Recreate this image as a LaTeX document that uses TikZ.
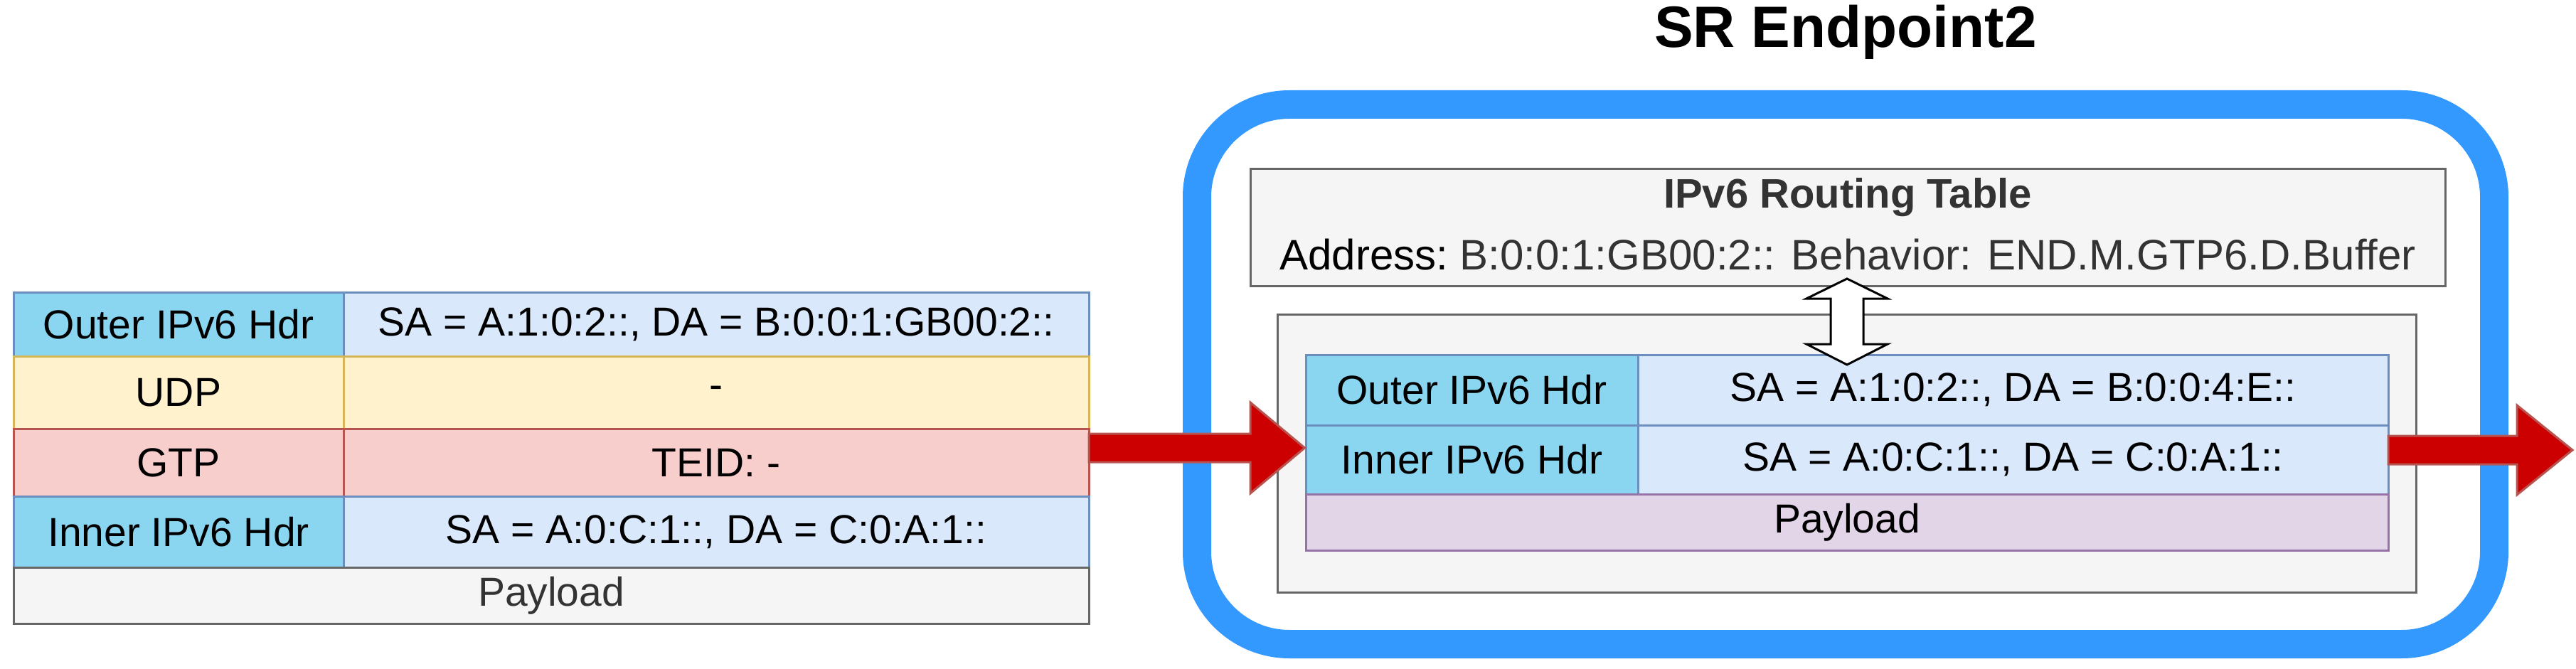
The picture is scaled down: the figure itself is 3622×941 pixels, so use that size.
\documentclass[tikz,border=0pt]{standalone}
\usepackage{fontspec}
\setmainfont{Liberation Sans}
\begin{document}
\begin{tikzpicture}[x=1pt,y=-1pt,
  cell/.style={draw, line width=3pt, inner sep=0pt, font=\fontsize{57}{62}\selectfont},
  hdr/.style={cell, fill=hb, draw=bs},
  val/.style={cell, fill=vb, draw=bs},
  bigarrow/.style={fill=ar, draw=as, line width=3pt},
]
\definecolor{hb}{HTML}{8AD5F0}
\definecolor{vb}{HTML}{DAE8FC}
\definecolor{bs}{HTML}{6C8EBF}
\definecolor{yb}{HTML}{FFF2CC}
\definecolor{ys}{HTML}{D6B656}
\definecolor{rb}{HTML}{F8CECC}
\definecolor{rs}{HTML}{B85450}
\definecolor{gb}{HTML}{F5F5F5}
\definecolor{gs}{HTML}{666666}
\definecolor{gt}{HTML}{333333}
\definecolor{pb}{HTML}{E1D5E7}
\definecolor{ps}{HTML}{9673A6}
\definecolor{bl}{HTML}{3399FF}
\definecolor{ar}{HTML}{CC0000}
\definecolor{as}{HTML}{B85450}
\useasboundingbox (0,0) rectangle (3622,941);
% left table
\node[hdr, minimum width=464pt, minimum height=90pt] (o1) at (251,456) {Outer IPv6 Hdr};
\node[val, minimum width=1048pt, minimum height=90pt] (o2) at (1007,456) {SA = A:1:0:2::, DA = B:0:0:1:GB00:2::};
\node[cell, fill=yb, draw=ys, minimum width=464pt, minimum height=102pt] (u1) at (251,552) {UDP};
\node[cell, fill=yb, draw=ys, minimum width=1048pt, minimum height=102pt] (u2) at (1007,552) {-};
\node[cell, fill=rb, draw=rs, minimum width=464pt, minimum height=95pt] (g1) at (251,650.5) {GTP};
\node[cell, fill=rb, draw=rs, minimum width=1048pt, minimum height=95pt] (g2) at (1007,650.5) {TEID: -};
\node[hdr, minimum width=464pt, minimum height=100pt] (i1) at (251,748) {Inner IPv6 Hdr};
\node[val, minimum width=1048pt, minimum height=100pt] (i2) at (1007,748) {SA = A:0:C:1::, DA = C:0:A:1::};
\node[cell, fill=gb, draw=gs, text=gt, minimum width=1512pt, minimum height=79pt] (p) at (775,837.5) {Payload};
% endpoint
\node[font=\fontsize{82}{90}\selectfont\bfseries] (title) at (2595,45) {SR Endpoint2};
\draw[bl, line width=40pt, rounded corners=130pt] (1683,147) rectangle (3507,906);
\node[draw=gs, fill=gb, line width=3pt, minimum width=1680pt, minimum height=164pt] (rt) at (2598,320) {};
\node[text=gt, font=\fontsize{58}{62}\selectfont\bfseries] (rtt) at (2598,278) {IPv6 Routing Table};
\node[font=\fontsize{60}{64}\selectfont] (rta) at (2598,358) {Address:\ \textcolor{gt}{B:0:0:1:GB00:2:: Behavior: END.M.GTP6.D.Buffer}};
\node[draw=gs, fill=gb, line width=3pt, minimum width=1601pt, minimum height=391pt] (gbox) at (2596.5,637.5) {};
\node[hdr, minimum width=467pt, minimum height=99pt] (io1) at (2069.5,548.5) {Outer IPv6 Hdr};
\node[val, minimum width=1055pt, minimum height=99pt] (io2) at (2830.5,548.5) {SA = A:1:0:2::, DA = B:0:0:4:E::};
\node[hdr, minimum width=467pt, minimum height=97pt] (ii1) at (2069.5,646.5) {Inner IPv6 Hdr};
\node[val, minimum width=1055pt, minimum height=97pt] (ii2) at (2830.5,646.5) {SA = A:0:C:1::, DA = C:0:A:1::};
\node[cell, fill=pb, draw=ps, minimum width=1522pt, minimum height=79pt] (ip) at (2597,734.5) {Payload};
% double arrow
\draw[fill=white, line width=3pt] (2597,392) -- (2654,420) -- (2620,420) -- (2620,484) -- (2654,484) -- (2597,513) -- (2540,484) -- (2574,484) -- (2574,420) -- (2540,420) -- cycle;
% red arrows
\coordinate (la) at (g2.east |- 0,630);
\coordinate (lb) at (ii1.west |- 0,630);
\draw[bigarrow] (1531,610) -- (1758,610) -- (1758,566) -- (lb) -- (1758,694) -- (1758,650) -- (1531,650) -- cycle;
\coordinate (ra) at (ii2.east |- 0,633);
\coordinate (rb) at (3617,633);
\draw[bigarrow] (3358,613) -- (3539,613) -- (3539,570) -- (rb) -- (3539,696) -- (3539,653) -- (3358,653) -- cycle;
\end{tikzpicture}
\end{document}
